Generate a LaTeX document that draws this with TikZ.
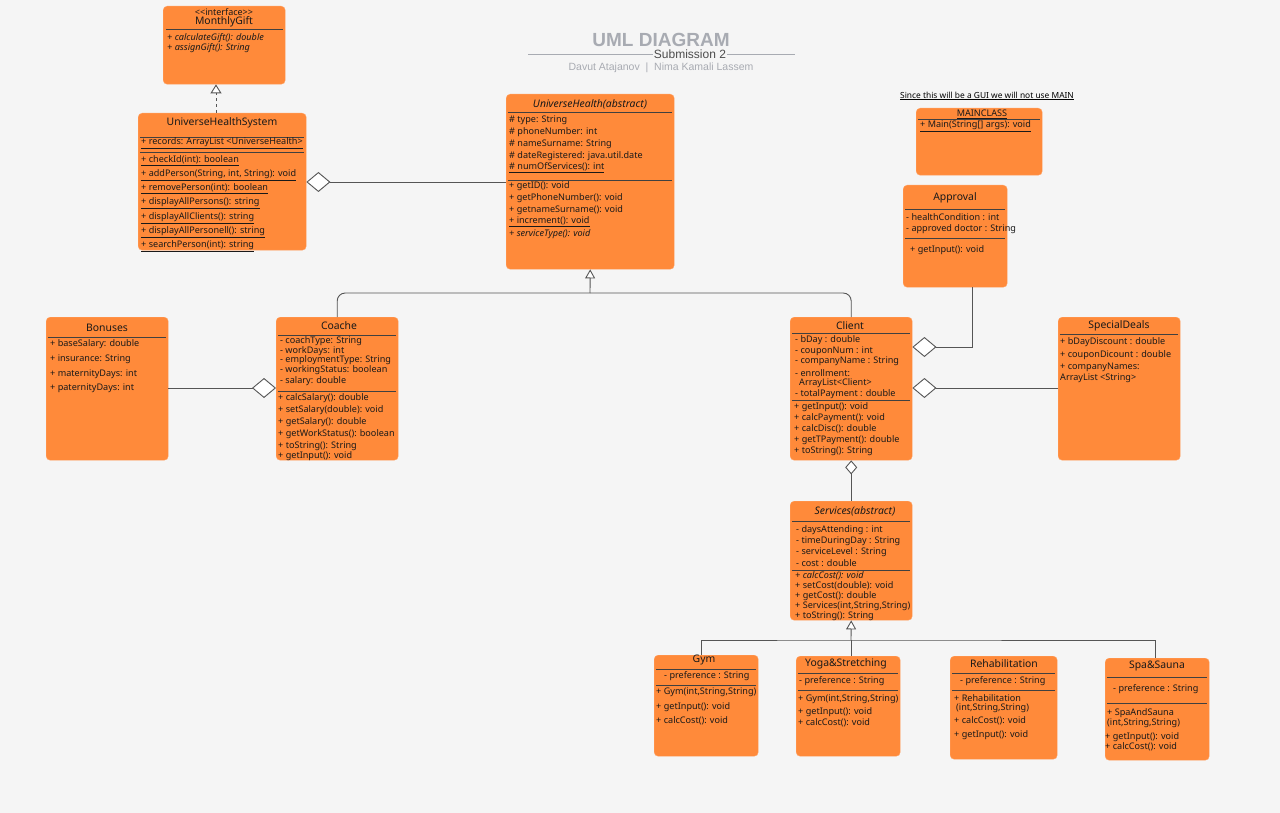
\documentclass[tikz,border=0pt]{standalone}
\usepackage{fontspec}
\setmainfont{Noto Sans}
\newfontfamily\titlefont{Liberation Sans}
\usetikzlibrary{arrows.meta}
\definecolor{bg}{HTML}{F5F5F5}
\definecolor{boxc}{HTML}{FF8A3A}
\definecolor{boxe}{HTML}{FFA060}
\definecolor{lnc}{HTML}{555555}
\definecolor{tgrey}{HTML}{A8ABB2}
\newcommand\fs{\fontsize{9.1}{10}\selectfont}
\newcommand\ft{\fontsize{10.4}{11}\selectfont}
\newcommand\ul[1]{\underline{#1}}
\tikzset{
  box/.style={fill=boxc, draw=boxe, rounded corners=4, inner sep=0, anchor=north west},
  t/.style={anchor=west, inner sep=0, font=\fs, text=black!90},
  tt/.style={inner sep=0, font=\ft, text=black!90},
  sep/.style={draw=black!75, line width=0.9},
  con/.style={draw=lnc, line width=0.9},
  gen/.style={con, -{Triangle[open, length=9, width=10, fill=white]}},
  agg/.style={con, {Diamond[open, length=24, width=20, fill=white]}-},
}
\begin{document}
\begin{tikzpicture}[x=1pt,y=-1pt]
\fill[bg] (0,0) rectangle (1280,813);
\useasboundingbox (0,0) rectangle (1280,813);
% title
\node[inner sep=0, font=\titlefont\bfseries\fontsize{19}{20}\selectfont, text=tgrey] (title) at (661,40) {UML DIAGRAM};
\draw[draw=tgrey, line width=1] (528,55) -- (795,55);
\node[inner sep=1, fill=bg, font=\titlefont\fontsize{12}{13}\selectfont, text=black!70] (sub) at (690,54) {Submission 2};
\node[inner sep=0, font=\titlefont\fontsize{10.5}{12}\selectfont, text=tgrey] (auth) at (661,68) {Davut Atajanov ~|~ Nima Kamali Lassem};

% MonthlyGift
\node[box, minimum width=122, minimum height=78] (mg) at (163,6) {};
\node[tt] (mg1) at (224,12) {\fontsize{9}{9}\selectfont {<}{<}interface{>}{>}};
\node[tt] (mg2) at (224,22) {MonthlyGift};
\draw[sep] (166,29) -- (283,29);
\node[t] at (167,38) {\itshape + calculateGift(): double};
\node[t] at (167,48) {\itshape + assignGift(): String};

% UniverseHealthSystem
\node[box, minimum width=168, minimum height=137] (uhs) at (138,113) {};
\node[tt] at (222,123) {UniverseHealthSystem};
\draw[sep] (140,137) -- (304,137);
\node[t] at (141,143) {\ul{+ records: ArrayList <UniverseHealth>}};
\draw[sep] (140,152) -- (304,152);
\node[t] at (141,161) {\ul{+ checkId(int): boolean}};
\node[t] at (141,175) {\ul{+ addPerson(String, int, String): void}};
\node[t] at (141,189) {\ul{+ removePerson(int): boolean}};
\node[t] at (141,203) {\ul{+ displayAllPersons(): string}};
\node[t] at (141,218) {\ul{+ displayAllClients(): string}};
\node[t] at (141,232) {\ul{+ displayAllPersonell(): string}};
\node[t] at (141,246) {\ul{+ searchPerson(int): string}};

% UniverseHealth
\node[box, minimum width=168, minimum height=175] (uh) at (506,94) {};
\node[tt] at (590,104) {\itshape UniverseHealth(abstract)};
\draw[sep] (508,112) -- (672,112);
\node[t] at (509,120) {\# type: String};
\node[t] at (509,132) {\# phoneNumber: int};
\node[t] at (509,144) {\# nameSurname: String};
\node[t] at (509,156) {\# dateRegistered: java.util.date};
\node[t] at (509,168) {\ul{\# numOfServices(): int}};
\draw[sep] (508,180) -- (672,180);
\node[t] at (509,186) {+ getID(): void};
\node[t] at (509,198) {+ getPhoneNumber(): void};
\node[t] at (509,210) {+ getnameSurname(): void};
\node[t] at (509,222) {\ul{+ increment(): void}};
\node[t] at (509,234) {\itshape + serviceType(): void};

% MAINCLASS
\node[inner sep=0, font=\fontsize{8.4}{9}\selectfont] (note) at (987,96) {\ul{Since this will be a GUI we will not use MAIN}};
\node[box, minimum width=126, minimum height=67] (mc) at (916,108) {};
\node[tt, font=\fs] at (982,114) {\ul{MAINCLASS}};
\draw[sep] (918,119) -- (1040,119);
\node[t] at (920,126) {\ul{+ Main(String[] args): void}};

% Approval
\node[box, minimum width=104, minimum height=102] (ap) at (903,185) {};
\node[tt] at (955,198) {Approval};
\draw[sep] (905,209) -- (1005,209);
\node[t] at (906,217) {- healthCondition : int};
\node[t] at (906,229) {- approved doctor : String};
\draw[sep] (905,238) -- (1005,238);
\node[t] at (910,250) {+ getInput(): void};

% Bonuses
\node[box, minimum width=122, minimum height=143] (bo) at (46,317) {};
\node[tt] at (107,328) {Bonuses};
\draw[sep] (48,337) -- (166,337);
\node[t] at (50,344) {+ baseSalary: double};
\node[t] at (50,359) {+ insurance: String};
\node[t] at (50,374) {+ maternityDays: int};
\node[t] at (50,388) {+ paternityDays: int};

% Coache
\node[box, minimum width=122, minimum height=143] (co) at (276,317) {};
\node[tt] at (339,326) {Coache};
\draw[sep] (278,335) -- (396,335);
\node[t] at (280,341) {- coachType: String};
\node[t] at (280,351) {- workDays: int};
\node[t] at (280,360) {- employmentType: String};
\node[t] at (280,370) {- workingStatus: boolean};
\node[t] at (280,381) {- salary: double};
\draw[sep] (278,391) -- (396,391);
\node[t] at (278,398) {+ calcSalary(): double};
\node[t] at (278,410) {+ setSalary(double): void};
\node[t] at (278,422) {+ getSalary(): double};
\node[t] at (278,434) {+ getWorkStatus(): boolean};
\node[t] at (278,446) {+ toString(): String};
\node[t] at (278,456) {+ getInput(): void};

% Client
\node[box, minimum width=122, minimum height=143] (cl) at (790,317) {};
\node[tt] at (850,326) {Client};
\draw[sep] (792,333) -- (910,333);
\node[t] at (795,340) {- bDay : double};
\node[t] at (795,351) {- couponNum : int};
\node[t] at (795,361) {- companyName : String};
\node[t] at (795,373) {- enrollment:};
\node[t] at (799,383) {ArrayList<Client>};
\node[t] at (795,394) {- totalPayment : double};
\draw[sep] (792,400) -- (910,400);
\node[t] at (794,407) {+ getInput(): void};
\node[t] at (794,418) {+ calcPayment(): void};
\node[t] at (794,429) {+ calcDisc(): double};
\node[t] at (794,440) {+ getTPayment(): double};
\node[t] at (794,451) {+ toString(): String};

% SpecialDeals
\node[box, minimum width=122, minimum height=143] (sd) at (1058,317) {};
\node[tt] at (1119,326) {SpecialDeals};
\draw[sep] (1060,334) -- (1178,334);
\node[t] at (1060,342) {+ bDayDiscount : double};
\node[t] at (1060,355) {+ couponDicount : double};
\node[t] at (1060,367) {+ companyNames:};
\node[t] at (1060,378) {ArrayList <String>};

% Services
\node[box, minimum width=122, minimum height=119] (sv) at (790,501) {};
\node[tt] at (855,511) {\itshape Services(abstract)};
\draw[sep] (792,521) -- (910,521);
\node[t] at (796,530) {- daysAttending : int};
\node[t] at (796,541) {- timeDuringDay : String};
\node[t] at (796,552) {- serviceLevel : String};
\node[t] at (796,563) {- cost : double};
\draw[sep] (792,570) -- (910,570);
\node[t] at (795,576) {\itshape + calcCost(): void};
\node[t] at (795,586) {+ setCost(double): void};
\node[t] at (795,596) {+ getCost(): double};
\node[t] at (795,606) {+ Services(int,String,String)};
\node[t] at (795,616) {+ toString(): String};

% Gym
\node[box, minimum width=104, minimum height=101] (gym) at (654,655) {};
\node[tt] at (704,660) {Gym};
\draw[sep] (656,669) -- (756,669);
\node[t] at (664,676) {- preference : String};
\draw[sep] (656,685) -- (756,685);
\node[t] at (656,692) {+ Gym(int,String,String)};
\node[t] at (656,707) {+ getInput(): void};
\node[t] at (656,721) {+ calcCost(): void};

% Yoga
\node[box, minimum width=104, minimum height=100] (yo) at (796,656) {};
\node[tt] at (846,664) {Yoga\&Stretching};
\draw[sep] (798,673) -- (898,673);
\node[t] at (799,681) {- preference : String};
\draw[sep] (798,690) -- (898,690);
\node[t] at (798,699) {+ Gym(int,String,String)};
\node[t] at (798,712) {+ getInput(): void};
\node[t] at (798,723) {+ calcCost(): void};

% Rehabilitation
\node[box, minimum width=107, minimum height=103] (re) at (950,656) {};
\node[tt] at (1004,664) {Rehabilitation};
\draw[sep] (952,673) -- (1055,673);
\node[t] at (960,681) {- preference : String};
\draw[sep] (952,690) -- (1055,690);
\node[t] at (954,698) {+ Rehabilitation};
\node[t] at (956,708) {(int,String,String)};
\node[t] at (954,721) {+ calcCost(): void};
\node[t] at (954,735) {+ getInput(): void};

% Spa
\node[box, minimum width=104, minimum height=102] (sp) at (1105,658) {};
\node[tt] at (1157,666) {Spa\&Sauna};
\draw[sep] (1107,677) -- (1207,677);
\node[t] at (1113,689) {- preference : String};
\draw[sep] (1107,703) -- (1207,703);
\node[t] at (1107,713) {+ SpaAndSauna};
\node[t] at (1107,723) {(int,String,String)};
\node[t] at (1105,737) {+ getInput(): void};
\node[t] at (1105,747) {+ calcCost(): void};

% connectors
\draw[con, dashed, -{Triangle[open, length=9, width=11, fill=white]}] (uhs.north -| 216,0) -- (mg.south -| 216,0);
\draw[agg] (uhs.east |- 0,182) -- (uh.west |- 0,182);
\coordinate (gj) at (590,293);
\draw[con, rounded corners=8] (co.north) |- (gj);
\draw[con, rounded corners=8] (cl.north) |- (gj);
\draw[gen] (gj) -- (uh.south);
\draw[agg] (co.west |- 0,388) -- (bo.east |- 0,388);
\draw[agg, rounded corners=0] (cl.east |- 0,347) -| (ap.south -| 972,0);
\draw[agg] (cl.east |- 0,388) -- (sd.west |- 0,388);
\draw[con, {Diamond[open, length=14, width=12, fill=white]}-] (cl.south) -- (sv.north);
\coordinate (sj) at (851,640);
\draw[gen] (sj) -- (sv.south);
\draw[con] (gym.north -| 701,0) |- (sj) -| (sp.north -| 1155,0);
\draw[con] (sj) -- (yo.north -| 851,0);
\draw[con] (re.north -| 1003,640) -- (re.north -| 1003,0);
\end{tikzpicture}
\end{document}
